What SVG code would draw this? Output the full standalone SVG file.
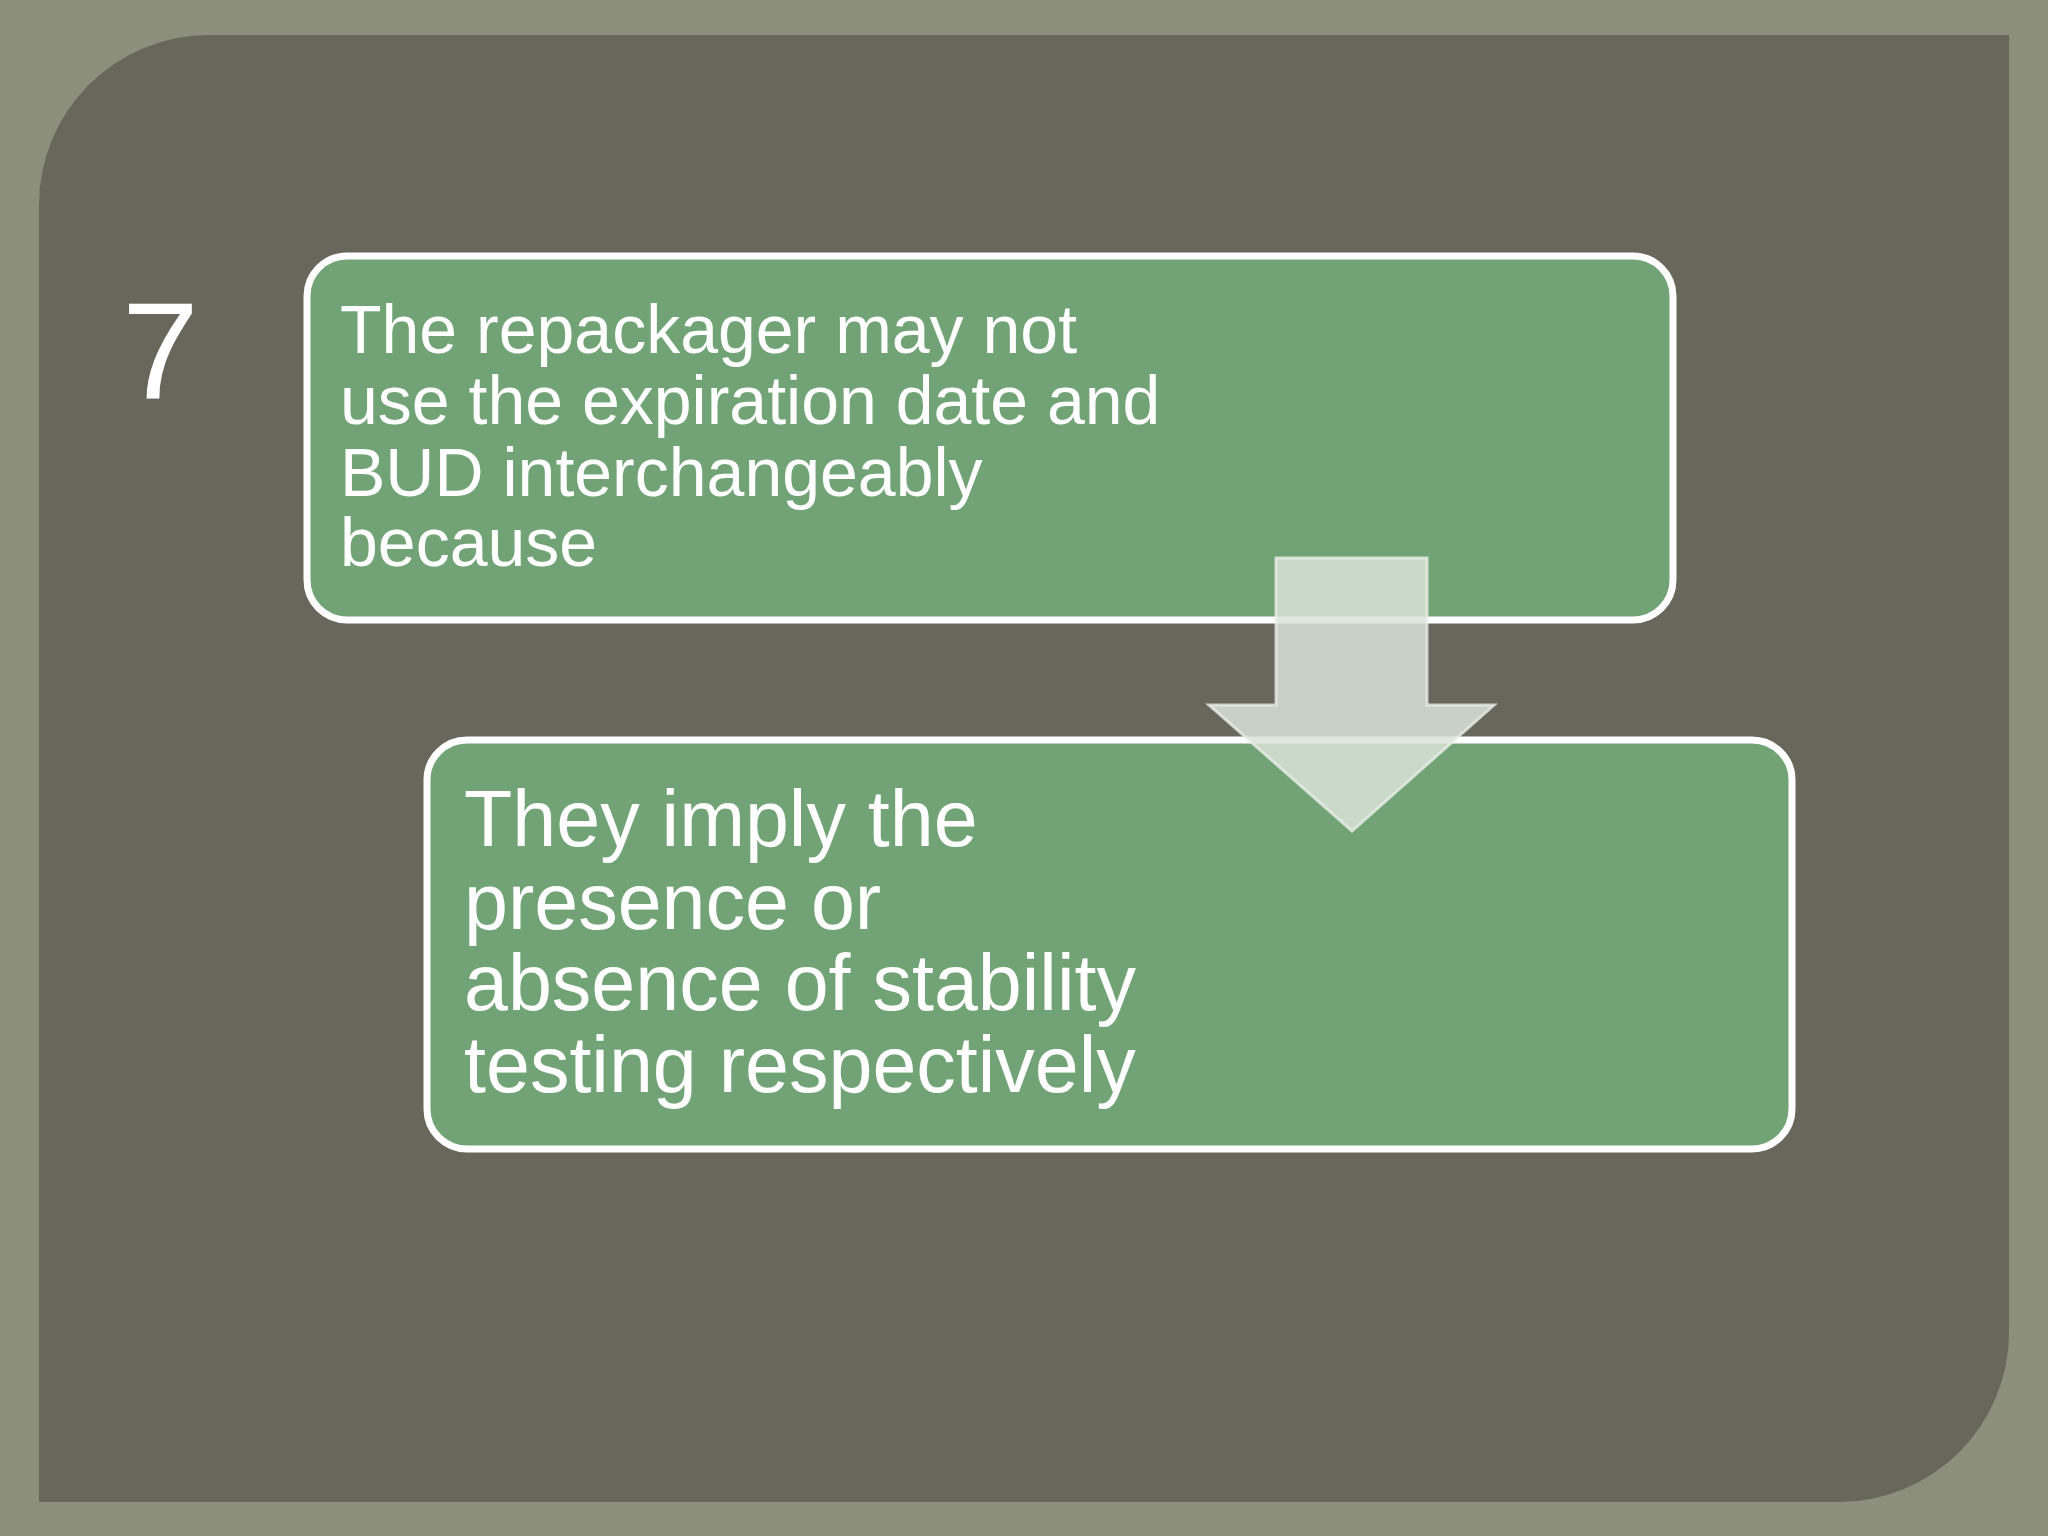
<svg xmlns="http://www.w3.org/2000/svg" width="2048" height="1536" viewBox="0 0 2048 1536">
<style>
.box{fill:#72a377;stroke:#ffffff;stroke-width:7}
.t{font-family:"Liberation Sans",Arial,sans-serif;fill:#ffffff}
</style>
<rect width="2048" height="1536" fill="#8b8f7b"/>
<path d="M209,35 H2009 V1332 A170,170 0 0 1 1839,1502 H39 V205 A170,170 0 0 1 209,35 Z" fill="#67675c"/>
<text class="t" x="122" y="398" font-size="138">7</text>
<g id="node1">
<rect class="box" x="307" y="256" width="1366" height="364" rx="40"/>
<text class="t" font-size="68"><tspan x="340" y="353">The repackager may not</tspan><tspan x="340" y="424">use the expiration date and</tspan><tspan x="340" y="496">BUD interchangeably</tspan><tspan x="340" y="566">because</tspan></text>
</g>
<g id="node2">
<rect class="box" x="427" y="740" width="1365" height="409" rx="40"/>
<text class="t" font-size="79"><tspan x="464" y="846">They imply the</tspan><tspan x="464" y="929">presence or</tspan><tspan x="464" y="1010">absence of stability</tspan><tspan x="464" y="1092">testing respectively</tspan></text>
</g>
<g id="connectors">
<path d="M1276,558 H1427 V705 H1494 L1352,831 L1209,705 H1276 Z" fill="#dbe3d9" fill-opacity="0.85" stroke="#e8eee6" stroke-opacity="0.8" stroke-width="3"/>
</g>
</svg>
